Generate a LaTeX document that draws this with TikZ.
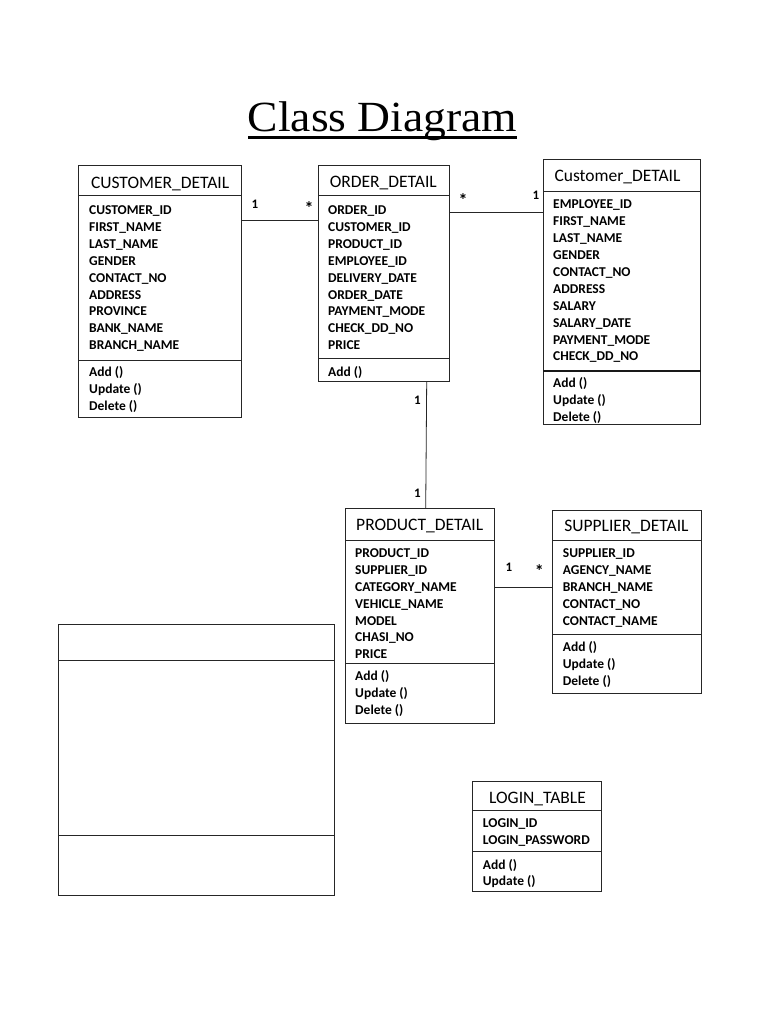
\documentclass[tikz,border=0pt]{standalone}
\usepackage{fontspec}
\setmainfont{Carlito}
\newfontfamily\titlefont{Liberation Serif}
\usetikzlibrary{calc}
\tikzset{
  box/.style={draw=black!85, line width=0.9pt, rectangle, inner sep=0pt, outer sep=0pt, anchor=north west},
  divider/.style={draw=black!85, line width=0.9pt},
  thickdiv/.style={draw=black!90, line width=1.7pt},
  conn/.style={draw=black!85, line width=0.8pt},
  ctitle/.style={font=\fontsize{17.5}{19}\selectfont, inner sep=0pt, anchor=base},
  attr/.style={font=\bfseries\fontsize{13.5}{15}\selectfont, inner sep=0pt, anchor=base west},
  mult/.style={font=\bfseries\fontsize{13}{15}\selectfont, inner sep=0pt},
  star/.style={font=\bfseries\fontsize{18}{18}\selectfont, inner sep=0pt},
}
% name, x1, y1, x2, y2
\newcommand\umlbox[5]{%
  \node[box, minimum width={(#4-#2)*1pt}, minimum height={(#5-#3)*1pt}] (#1) at (#2,#3) {};}
% prefix, x, first centre y, step, list
\newcommand\umlrows[5]{%
  \foreach \t [count=\i from 0] in {#5}
    \node[attr] (#1\i) at (#2, {#3+\i*#4+4.5}) {\t};}
\begin{document}
\begin{tikzpicture}[x=1pt,y=-1pt]
\useasboundingbox (0,0) rectangle (768,1024);
\fill[white] (0,0) rectangle (768,1024);

% Title
\node[font=\titlefont\fontsize{43}{50}\selectfont, inner sep=0pt, anchor=base] (title) at (382.5,131.7) {\scalebox{1.06}[1]{Class Diagram}};
\draw[line width=2.4pt] (248,137.6) -- (517,137.6);

% CUSTOMER_DETAIL
\umlbox{cust}{78.5}{165.7}{241.7}{417.7}
\draw[divider] (78.5,195.7) -- (241.7,195.7);
\draw[divider] (78.5,360) -- (241.7,360);
\node[ctitle] (custt) at (160.1,188.6) {CUSTOMER\_DETAIL};
\umlrows{custa}{89}{210}{16.9}{CUSTOMER\_ID,FIRST\_NAME,LAST\_NAME,GENDER,CONTACT\_NO,ADDRESS,PROVINCE,BANK\_NAME,BRANCH\_NAME}
\umlrows{custm}{89}{372.3}{16.7}{Add (),Update (),Delete ()}

% ORDER_DETAIL
\umlbox{order}{318.3}{165.7}{449.3}{381.7}
\draw[divider] (318.3,195.7) -- (449.3,195.7);
\draw[divider] (318.3,358.3) -- (449.3,358.3);
\node[ctitle] (ordert) at (383.3,187.6) {ORDER\_DETAIL};
\umlrows{ordera}{328}{210}{16.9}{ORDER\_ID,CUSTOMER\_ID,PRODUCT\_ID,EMPLOYEE\_ID,DELIVERY\_DATE,ORDER\_DATE,PAYMENT\_MODE,CHECK\_DD\_NO,PRICE}
\umlrows{orderm}{328}{371.7}{16.7}{Add ()}

% Customer_DETAIL (employee)
\umlbox{emp}{543.3}{159.3}{700.7}{424}
\draw[divider] (543.3,191.7) -- (700.7,191.7);
\draw[thickdiv] (543.3,371) -- (700.7,371);
\node[ctitle] (empt) at (617.5,181.9) {Customer\_DETAIL};
\umlrows{empa}{553}{204.3}{16.9}{EMPLOYEE\_ID,FIRST\_NAME,LAST\_NAME,GENDER,CONTACT\_NO,ADDRESS,SALARY,SALARY\_DATE,PAYMENT\_MODE,CHECK\_DD\_NO}
\umlrows{empm}{553}{383.3}{16.7}{Add (),Update (),Delete ()}

% PRODUCT_DETAIL
\umlbox{prod}{345}{508.3}{494.3}{723.3}
\draw[divider] (345,540) -- (494.3,540);
\draw[divider] (345,663.3) -- (494.3,663.3);
\node[ctitle] (prodt) at (419.7,530.2) {PRODUCT\_DETAIL};
\umlrows{proda}{355}{553.3}{16.8}{PRODUCT\_ID,SUPPLIER\_ID,CATEGORY\_NAME,VEHICLE\_NAME,MODEL,CHASI\_NO,PRICE}
\umlrows{prodm}{355}{676}{17}{Add (),Update (),Delete ()}

% SUPPLIER_DETAIL
\umlbox{sup}{552.7}{510}{701}{693.3}
\draw[divider] (552.7,540.7) -- (701,540.7);
\draw[divider] (552.7,634.3) -- (701,634.3);
\node[ctitle] (supt) at (626.4,531.9) {SUPPLIER\_DETAIL};
\umlrows{supa}{562.7}{553.3}{16.85}{SUPPLIER\_ID,AGENCY\_NAME,BRANCH\_NAME,CONTACT\_NO,CONTACT\_NAME}
\umlrows{supm}{562.7}{646.7}{17.2}{Add (),Update (),Delete ()}

% empty class
\umlbox{blank}{58.3}{624}{334.7}{895.7}
\draw[divider] (58.3,660) -- (334.7,660);
\draw[divider] (58.3,835.7) -- (334.7,835.7);

% LOGIN_TABLE
\umlbox{login}{472.7}{781.7}{601.7}{891.7}
\draw[divider] (472.7,810.7) -- (601.7,810.7);
\draw[divider] (472.7,851) -- (601.7,851);
\node[ctitle] (logint) at (537.5,803.6) {LOGIN\_TABLE};
\umlrows{logina}{482.7}{823.3}{16.7}{LOGIN\_ID,LOGIN\_PASSWORD}
\umlrows{loginm}{482.7}{865}{16}{Add (),Update ()}

% connectors
\coordinate (y1) at (0,220);
\coordinate (y2) at (0,212);
\coordinate (y4) at (0,587.7);
\coordinate (x3a) at (426.7,0);
\coordinate (x3b) at (425.7,0);
\draw[conn] (cust.east |- y1) -- (order.west |- y1);
\draw[conn] (order.east |- y2) -- (emp.west |- y2);
\draw[conn] (order.south -| x3a) -- (prod.north -| x3b);
\draw[conn] (prod.east |- y4) -- (sup.west |- y4);

% multiplicities
\node[mult] (m1a) at (255,204) {1};
\node[star] (m1b) at (309,208.5) {*};
\node[star] (m2a) at (463,200.5) {*};
\node[mult] (m2b) at (536,195) {1};
\node[mult] (m3a) at (417.3,400) {1};
\node[mult] (m3b) at (417.3,493.3) {1};
\node[mult] (m4a) at (509,567.7) {1};
\node[star] (m4b) at (539.3,571.5) {*};
\end{tikzpicture}
\end{document}
